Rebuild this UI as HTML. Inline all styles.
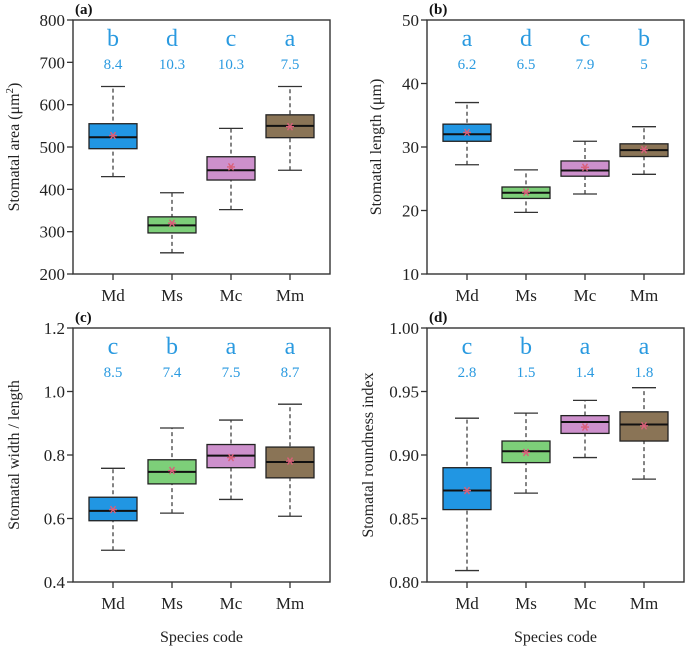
<!DOCTYPE html>
<html><head><meta charset="utf-8"><style>
body{margin:0;background:#fff}
svg{display:block;font-family:"Liberation Serif",serif}
</style></head><body>
<svg id="c" width="685" height="648" viewBox="0 0 685 648" xmlns="http://www.w3.org/2000/svg"></svg>
<script>
const categories=["Md","Ms","Mc","Mm"];
const colors=["#2196e3","#7dcf79","#cd90cc","#8a7456"];
// panel a
const aWlo=[430,250,352,445], aQ1=[496,297,422,522], aMed=[523,315,445,550], aQ3=[555,335,477,576], aWhi=[643,392,544,643], aMean=[527,320,453,548];
const aLetters=["b","d","c","a"], aCV=["8.4","10.3","10.3","7.5"], aTicks=[200,300,400,500,600,700,800];
// panel b
const bWlo=[27.2,19.7,22.6,25.7], bQ1=[30.9,21.9,25.4,28.5], bMed=[32,22.8,26.3,29.5], bQ3=[33.6,23.7,27.8,30.5], bWhi=[37,26.4,30.9,33.2], bMean=[32.3,22.9,26.8,29.6];
const bLetters=["a","d","c","b"], bCV=["6.2","6.5","7.9","5"], bTicks=[10,20,30,40,50];
// panel c
const cWlo=[0.5,0.617,0.66,0.607], cQ1=[0.593,0.709,0.76,0.728], cMed=[0.624,0.747,0.798,0.778], cQ3=[0.667,0.785,0.833,0.825], cWhi=[0.758,0.885,0.91,0.96], cMean=[0.628,0.751,0.792,0.781];
const cLetters=["c","b","a","a"], cCV=["8.5","7.4","7.5","8.7"], cTicks=[0.4,0.6,0.8,1.0,1.2];
// panel d
const dWlo=[0.809,0.870,0.898,0.881], dQ1=[0.857,0.894,0.917,0.911], dMed=[0.872,0.903,0.926,0.924], dQ3=[0.890,0.911,0.931,0.934], dWhi=[0.929,0.933,0.943,0.953], dMean=[0.872,0.902,0.922,0.923];
const dLetters=["c","b","a","a"], dCV=["2.8","1.5","1.4","1.8"], dTicks=[0.80,0.85,0.90,0.95,1.00];

const svg=document.getElementById('c');
const NS="http://www.w3.org/2000/svg";
function mk(tag,attrs,parent,text){const e=document.createElementNS(NS,tag);for(const k in attrs)e.setAttribute(k,attrs[k]);if(text!==undefined)e.textContent=text;(parent||svg).appendChild(e);return e;}

function panel(o){
  const g=mk('g',{});
  
  
  const x0=o.x0,x1=o.x0+257,y0=o.y0,y1=o.y0+254;
  const lo=o.ticks[0],hi=o.ticks[o.ticks.length-1];
  const ys=v=>y1-(v-lo)/(hi-lo)*(y1-y0);
  const xs=i=>x0+40+59*i;
  o.ticks.forEach(t=>{
    const l=mk('line',{x1:x0-6,x2:x0,y1:ys(t),y2:ys(t),stroke:'#333','stroke-width':1.3},g);
    
    
    const tx=mk('text',{x:x0-8,y:ys(t)+6,'text-anchor':'end','font-size':17,fill:'#222'},g,o.fmt(t));
    
    
  });
  categories.forEach((c,i)=>{
    const x=xs(i);
    const l=mk('line',{x1:x,x2:x,y1:y1,y2:y1+6,stroke:'#333','stroke-width':1.3},g);
    
    
    const tx=mk('text',{x:x,y:y1+27,'text-anchor':'middle','font-size':17,fill:'#222'},g,c);
    
    
    const w=mk('line',{x1:x,x2:x,y1:ys(o.wlo[i]),y2:ys(o.whi[i]),stroke:'#333','stroke-width':1.2,'stroke-dasharray':'4,3'},g);
    
    
    [o.wlo[i],o.whi[i]].forEach(v=>{
      const cap=mk('line',{x1:x-12,x2:x+12,y1:ys(v),y2:ys(v),stroke:'#333','stroke-width':1.3},g);
      
      
    });
    const b=mk('rect',{x:x-24,y:ys(o.q3[i]),width:48,height:ys(o.q1[i])-ys(o.q3[i]),fill:colors[i],stroke:'#222','stroke-width':1.3},g);
    
    
    const m=mk('line',{x1:x-24,x2:x+24,y1:ys(o.med[i]),y2:ys(o.med[i]),stroke:'#111','stroke-width':2},g);
    
    
    const my=ys(o.mean[i]);
    const mp=mk('path',{d:`M${x-4},${my}H${x+4}M${x-2.5},${my-3.5}L${x+2.5},${my+3.5}M${x-2.5},${my+3.5}L${x+2.5},${my-3.5}`,stroke:'#d9607a','stroke-width':1.4,fill:'none'},g);
    
    
    const lt=mk('text',{x:x,y:y0+26,'text-anchor':'middle','font-size':24,fill:'#2a9ae0'},g,o.letters[i]);
    
    
    const cv=mk('text',{x:x,y:y0+49,'text-anchor':'middle','font-size':15,fill:'#2a9ae0'},g,o.cv[i]);
    
    
  });
  const fr=mk('rect',{x:x0,y:y0,width:x1-x0,height:y1-y0,fill:'none',stroke:'#333','stroke-width':1.4},g);
  
  
  const pl=mk('text',{x:x0+2,y:y0-6,'font-size':15,'font-weight':'bold',fill:'#111'},g,'('+o.id+')');
  
  
  const yt=mk('text',{x:0,y:0,'text-anchor':'middle','font-size':16,fill:'#222',transform:`translate(${o.titleX},${(y0+y1)/2}) rotate(-90)`},g);
  yt.innerHTML=o.title;
  
  
  if(o.xtitle){
    const xt=mk('text',{x:(x0+x1)/2,y:642,'text-anchor':'middle','font-size':16,fill:'#222'},g,'Species code');
    
    
  }
}
panel({id:'a',x0:73,y0:20,ticks:aTicks,fmt:t=>String(t),wlo:aWlo,q1:aQ1,med:aMed,q3:aQ3,whi:aWhi,mean:aMean,letters:aLetters,cv:aCV,titleX:19,title:'Stomatal area (μm<tspan dy="-6" font-size="11">2</tspan><tspan dy="6">)</tspan>'});
panel({id:'b',x0:427,y0:20,ticks:bTicks,fmt:t=>String(t),wlo:bWlo,q1:bQ1,med:bMed,q3:bQ3,whi:bWhi,mean:bMean,letters:bLetters,cv:bCV,titleX:381,title:'Stomatal length (μm)'});
panel({id:'c',x0:73,y0:328,ticks:cTicks,fmt:t=>t.toFixed(1),wlo:cWlo,q1:cQ1,med:cMed,q3:cQ3,whi:cWhi,mean:cMean,letters:cLetters,cv:cCV,titleX:19,title:'Stomatal width / length',xtitle:true});
panel({id:'d',x0:427,y0:328,ticks:dTicks,fmt:t=>t.toFixed(2),wlo:dWlo,q1:dQ1,med:dMed,q3:dQ3,whi:dWhi,mean:dMean,letters:dLetters,cv:dCV,titleX:373,title:'Stomatal roundness index',xtitle:true});
</script>
</body></html>
